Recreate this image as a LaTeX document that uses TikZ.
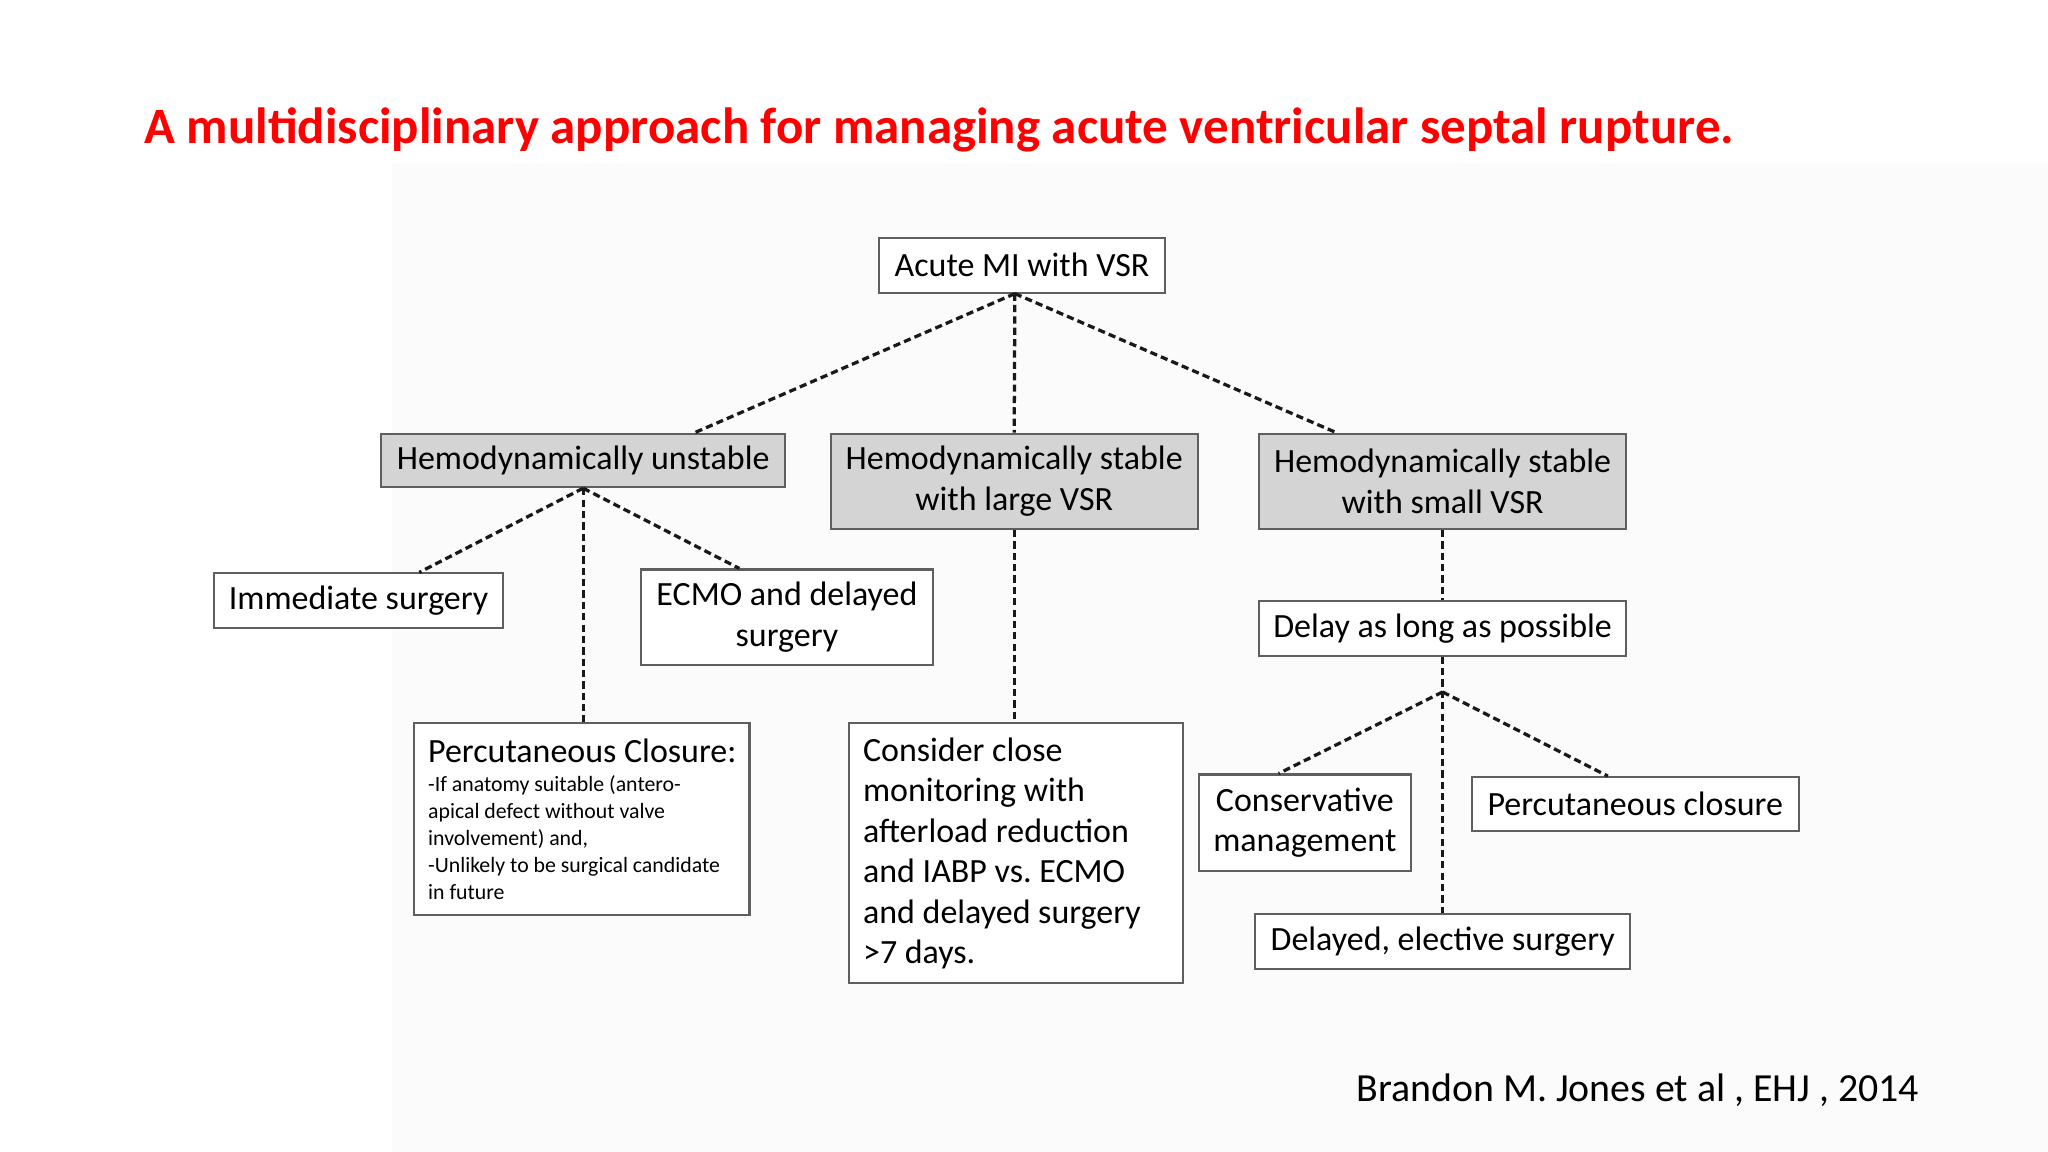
\documentclass[tikz,border=0pt]{standalone}
\usepackage{fontspec}
\setmainfont{Carlito}
\definecolor{boxgray}{RGB}{95,95,95}
\definecolor{boxfill}{RGB}{212,212,212}
\definecolor{linecol}{RGB}{25,25,25}
\definecolor{bgcol}{RGB}{251,251,251}
\definecolor{titlered}{RGB}{255,0,0}
\begin{document}
\frenchspacing
\begin{tikzpicture}[x=1pt,y=-1pt,
  box/.style={draw=boxgray, line width=1.6pt, fill=white, inner sep=0pt, align=center, text=black,
    font=\fontsize{26}{31}\selectfont},
  graybox/.style={box, fill=boxfill},
  conn/.style={draw=linecol, line width=2.5pt, dash pattern=on 5.5pt off 3.2pt}]
\useasboundingbox (0,0) rectangle (1568,882);
\fill[bgcol] (300,125) rectangle (1568,882);

\node[anchor=base west, text=titlered, font=\fontsize{39}{44}\selectfont\bfseries] (title) at (107,110)
  {A multidisciplinary approach for managing acute ventricular septal rupture.};
\node[anchor=base west, font=\fontsize{30.5}{34}\selectfont] (cite) at (1035,843)
  {Brandon M. Jones et al , EHJ , 2014};

\node[box, minimum width=219, minimum height=42] (mi) at (782.5,203) {Acute MI with VSR};
\node[graybox, minimum width=309, minimum height=41] (unst) at (446.5,352.5) {Hemodynamically unstable};
\node[graybox, minimum width=281, minimum height=73] (large) at (776.5,368.5) {Hemodynamically stable\\with large VSR};
\node[graybox, minimum width=281, minimum height=73] (small) at (1104.5,368.5) {Hemodynamically stable\\with small VSR};

\node[box, minimum width=221, minimum height=42] (imm) at (274.5,460) {Immediate surgery};
\node[box, minimum width=223, minimum height=73] (ecmo) at (602.5,472.5) {ECMO and delayed\\surgery};
\node[box, anchor=north west, minimum width=257, minimum height=147, inner xsep=11pt,
      text width=235, align=flush left, font=\fontsize{16.7}{20.7}\selectfont] (pc) at (316,553)
  {\mbox{\fontsize{26}{28}\selectfont Percutaneous Closure:}\\[2pt]
   -If anatomy suitable (antero-\\apical defect without valve\\involvement) and,\\-Unlikely to be surgical candidate\\in future};
\node[box, anchor=north west, minimum width=256, minimum height=199, inner xsep=11pt,
      text width=234, align=flush left] (cons) at (649,553)
  {Consider close\\monitoring with\\afterload reduction\\and IABP vs. ECMO\\and delayed surgery\\>7 days.};

\node[box, minimum width=281, minimum height=42] (delay) at (1104.5,481) {Delay as long as possible};
\node[box, minimum width=162, minimum height=74] (consv) at (999,630) {Conservative\\management};
\node[box, minimum width=250, minimum height=41] (perc) at (1252,615.5) {Percutaneous closure};
\node[box, minimum width=287, minimum height=42] (elect) at (1104.5,721) {Delayed, elective surgery};

% connectors
\coordinate (mis) at ([xshift=-5.5pt]mi.south);
\draw[conn] (mis) -- ([xshift=85.5pt]unst.north);
\draw[conn] (mis) -- (large.north);
\draw[conn] (mis) -- ([xshift=-81.5pt]small.north);

\draw[conn] (unst.south) -- ([xshift=46.5pt]imm.north);
\draw[conn] (unst.south) -- ([xshift=-36.5pt]ecmo.north);
\draw[conn] (unst.south) -- (unst.south |- pc.north);

\draw[conn] (large.south) -- (large.south |- cons.north);
\draw[conn] (small.south) -- (delay.north);

\coordinate (dj) at ([yshift=-27pt]delay.south);
\draw[conn] (delay.south) -- (elect.north);
\draw[conn] (dj) -- ([xshift=-20pt]consv.north);
\draw[conn] (dj) -- ([xshift=-21pt]perc.north);
\end{tikzpicture}
\end{document}
